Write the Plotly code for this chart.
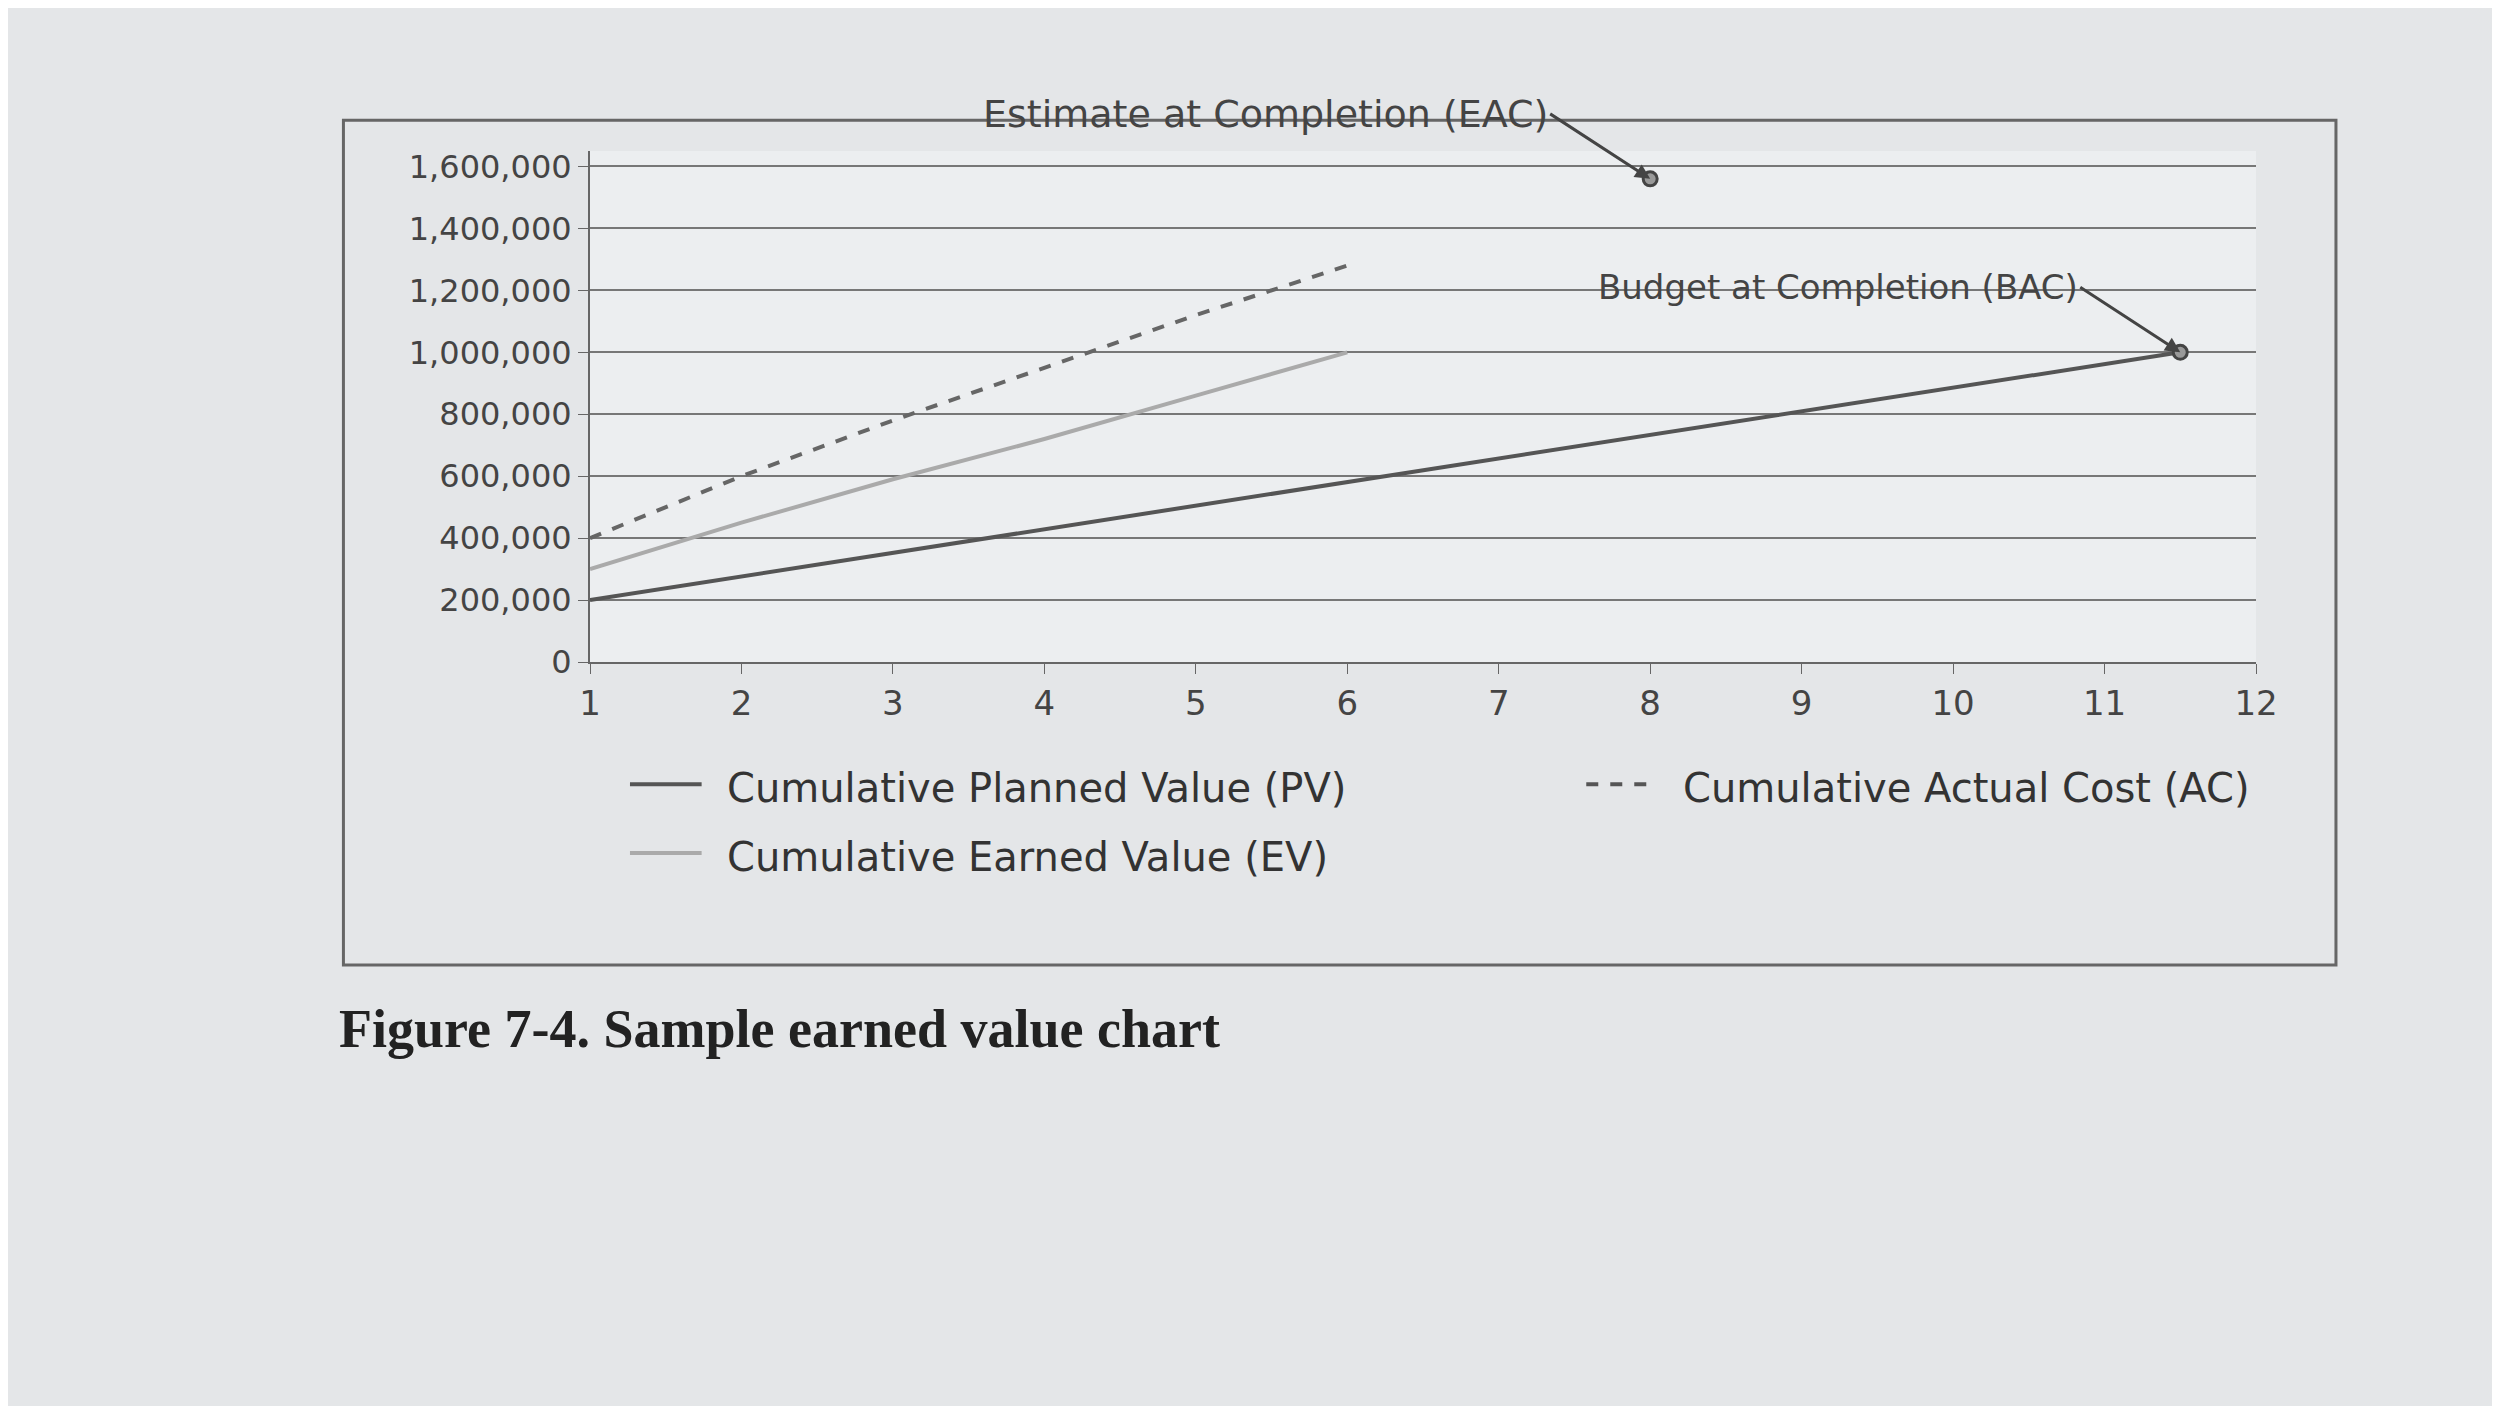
import plotly.graph_objects as go

months = [1,2,3,4,5,6,7,8,9,10,11,12]
pv_months = [1,2,3,4,5,6,7,8,9,10,11,11.5]
pv = [200000,276000,352000,429000,505000,581000,657000,733000,810000,886000,962000,1000000]
ev_months = [1,2,3,4,5,6]
ev = [300000,450000,590000,720000,860000,1000000]
ac_months = [1,2,3,4,5,6]
ac = [400000,600000,780000,950000,1120000,1280000]
eac_point = (8, 1560000)
bac_point = (11.5, 1000000)
yticks = [0,200000,400000,600000,800000,1000000,1200000,1400000,1600000]
ytext = ["0","200,000","400,000","600,000","800,000","1,000,000","1,200,000","1,400,000","1,600,000"]

fig = go.Figure()
fig.add_trace(go.Scatter(x=pv_months, y=pv, mode="lines", line=dict(color="#555", width=4)))
fig.add_trace(go.Scatter(x=ev_months, y=ev, mode="lines", line=dict(color="#aaa", width=4)))
fig.add_trace(go.Scatter(x=ac_months, y=ac, mode="lines", line=dict(color="#666", width=4, dash="dash")))
fig.add_trace(go.Scatter(x=[eac_point[0], bac_point[0]], y=[eac_point[1], bac_point[1]], mode="markers",
                         marker=dict(color="#999", size=14, line=dict(color="#444", width=3))))

font = "DejaVu Sans"
fig.update_layout(
    width=2500, height=1406, showlegend=False,
    paper_bgcolor="#e4e6e8", plot_bgcolor="#eceef0",
    margin=dict(l=582, r=252, t=143, b=752),
    font=dict(family=font, color="#444"),
    xaxis=dict(range=[1,12], tickvals=months, tickfont=dict(size=34), showgrid=False,
               showline=True, linecolor="#666", linewidth=2, ticks="outside", ticklen=10, tickcolor="#666", zeroline=False),
    yaxis=dict(range=[0,1650000], tickvals=yticks, ticktext=ytext, tickfont=dict(size=32),
               showgrid=True, gridcolor="#777", gridwidth=2, showline=True, linecolor="#666", linewidth=2,
               ticks="outside", ticklen=10, tickcolor="#666", zeroline=False),
)
fig.add_shape(type="rect", xref="paper", yref="paper", x0=-0.148, x1=1.048, y0=-0.593, y1=1.06,
              line=dict(color="#666", width=3), layer="below")
fig.add_annotation(x=eac_point[0], y=eac_point[1], xref="x", yref="y", text="Estimate at Completion (EAC)",
                   showarrow=True, arrowhead=2, arrowwidth=3, arrowcolor="#444", ax=-100, ay=-65,
                   font=dict(size=38, color="#444"), xanchor="right")
fig.add_annotation(x=bac_point[0], y=bac_point[1], xref="x", yref="y", text="Budget at Completion (BAC)",
                   showarrow=True, arrowhead=2, arrowwidth=3, arrowcolor="#444", ax=-100, ay=-65,
                   font=dict(size=34, color="#444"), xanchor="right")
legend = [(0.024, -0.239, "Cumulative Planned Value (PV)", "solid", "#555"),
          (0.024, -0.374, "Cumulative Earned Value (EV)", "solid", "#aaa"),
          (0.598, -0.239, "Cumulative Actual Cost (AC)", "dash", "#555")]
for x, y, t, d, c in legend:
    fig.add_shape(type="line", xref="paper", yref="paper", x0=x, x1=x+0.043, y0=y, y1=y,
                  line=dict(color=c, width=4, dash=d))
    fig.add_annotation(x=x+0.057, y=y, xref="paper", yref="paper", text=t, showarrow=False,
                       xanchor="left", yanchor="middle", yshift=-4, font=dict(size=40, color="#333"))
fig.add_annotation(x=-0.152, y=-0.78, xref="paper", yref="paper",
                   text="<b>Figure 7-4. Sample earned value chart</b>",
                   showarrow=False, xanchor="left", font=dict(size=54, family="Liberation Serif", color="#222"))
fig.write_html("out.html")
